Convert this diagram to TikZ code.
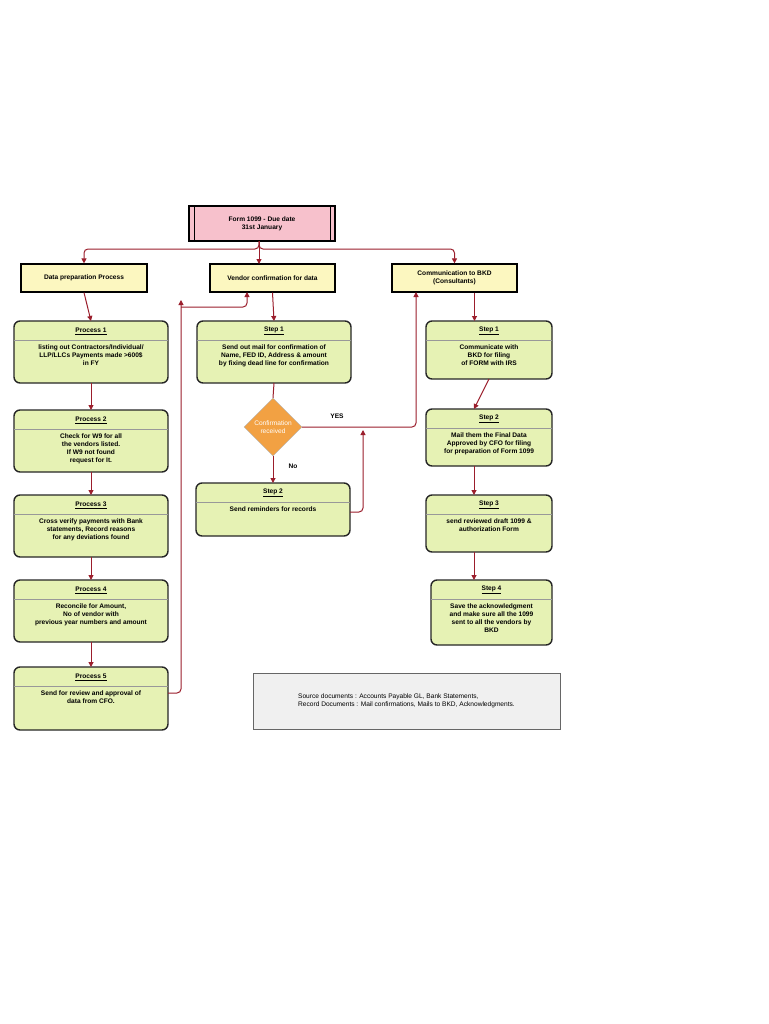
\documentclass[tikz,border=0pt]{standalone}
\usepackage{fontspec}
\setmainfont{Liberation Sans}
\usetikzlibrary{shapes.geometric,arrows.meta}
\definecolor{boxg}{HTML}{E6F2B4}
\definecolor{hdr}{HTML}{FCF7C0}
\definecolor{pnk}{HTML}{F7C1CC}
\definecolor{org}{HTML}{F2A143}
\definecolor{arr}{HTML}{9B1E2C}
\definecolor{notef}{HTML}{F0F0F0}
\tikzset{
 x=1pt,y=-1pt,
 every node/.style={font=\fontsize{6.6}{8}\selectfont\bfseries, align=center, inner sep=0},
 hd/.style={draw=black, line width=1.2pt, fill=hdr},
 rbox/.style={draw=black!85, line width=1.4pt, fill=boxg, rounded corners=6pt},
 con/.style={draw=arr, line width=1pt, -{Triangle[length=5pt,width=5pt]}, rounded corners=4pt},
 ln/.style={draw=arr, line width=1pt, rounded corners=4pt}
}
\newcommand{\rb}[7]{% name x1 y1 x2 y2 title body
 \draw[rbox] (#2,#3) rectangle (#4,#5);
 \coordinate (#1-n) at ({(#2+#4)/2},#3);
 \coordinate (#1-s) at ({(#2+#4)/2},#5);
 \draw[black!40, line width=.6pt] (#2,#3+19) -- (#4,#3+19);
 \node at ({(#2+#4)/2},#3+10) {\underline{#6}};
 \node[anchor=north] at ({(#2+#4)/2},#3+24) {#7};
}
\begin{document}
\begin{tikzpicture}
\useasboundingbox (0,0) rectangle (768,1024);
\fill[white] (0,0) rectangle (768,1024);
% title
\draw[black, line width=1.2pt, fill=pnk] (189,206) rectangle (335,241);
\draw[black, line width=1pt] (194,206) -- (194,241) (330,206) -- (330,241);
\node (t) at (262,223.5) {Form 1099 - Due date\\31st January};
\coordinate (ts) at (259,241);
% headers
\node[hd, minimum width=126, minimum height=28] (h1) at (84,278) {Data preparation Process};
\node[hd, minimum width=125, minimum height=28] (h2) at (272.5,278) {Vendor confirmation for data};
\node[hd, minimum width=125, minimum height=28] (h3) at (454.5,278) {Communication to BKD\\(Consultants)};
\draw[con] (ts) -- (259,249) -| (h1.north);
\draw[con] (ts) -- (259,249) -| (h3.north);
\draw[con] (ts) -- (259,264);
% process boxes
\rb{p1}{14}{321}{168}{383}{Process 1}{listing out Contractors/Individual/\\LLP/LLCs Payments made >600\$\\in FY}
\rb{p2}{14}{410}{168}{472}{Process 2}{Check for W9 for all\\the vendors listed.\\If W9 not found\\request for It.}
\rb{p3}{14}{495}{168}{557}{Process 3}{Cross verify payments with Bank\\statements, Record reasons\\for any deviations found}
\rb{p4}{14}{580}{168}{642}{Process 4}{Reconcile for Amount,\\No of vendor with\\previous year numbers and amount}
\rb{p5}{14}{667}{168}{730}{Process 5}{Send for review and approval of\\data from CFO.}
\draw[con] (h1.south) -- (p1-n);
\draw[con] (p1-s) -- (p2-n);
\draw[con] (p2-s) -- (p3-n);
\draw[con] (p3-s) -- (p4-n);
\draw[con] (p4-s) -- (p5-n);
\coordinate (p5e) at (168,693);
\draw[con] (p5e) -| (181,300);
\draw[con] (181,307) -- (247,307) -- (247,292);
% vendor column
\rb{v1}{197}{321}{351}{383}{Step 1}{Send out mail for confirmation of\\Name, FED ID, Address \& amount\\by fixing dead line for confirmation}
\node[diamond, draw=black!30, fill=org, minimum width=58, minimum height=58, font=\fontsize{6.6}{8}\selectfont, text=white] (d) at (273,427) {Confirmation\\received};
\rb{v2}{196}{483}{350}{536}{Step 2}{Send reminders for records}
\draw[con] (h2.south) -- (v1-n);
\draw[ln] (v1-s) -- (d.north);
\draw[con] (d.south) -- (v2-n);
\node at (293,466) {No};
\node at (337,416) {YES};
\draw[con] (d.east) -| (416,292);
\draw[con] (350,512) -| (363,430);
% BKD column
\rb{b1}{426}{321}{552}{379}{Step 1}{Communicate with\\BKD for filing\\of FORM with IRS}
\rb{b2}{426}{409}{552}{466}{Step 2}{Mail them the Final Data\\Approved by CFO for filing\\for preparation of Form 1099}
\rb{b3}{426}{495}{552}{552}{Step 3}{send reviewed draft 1099 \&\\authorization Form}
\rb{b4}{431}{580}{552}{645}{Step 4}{Save the acknowledgment\\and make sure all the 1099\\sent to all the vendors by\\BKD}
\draw[con] (h3.south) ++(20,0) -- (474.5,321);
\draw[con] (489,379) -- (474,409) ;
\draw[con] (474,466) -- (474,495);
\draw[con] (474,552) -- (474,580);
% note
\node[draw=black!60, fill=notef, minimum width=307, minimum height=56, font=\fontsize{6.6}{8.5}\selectfont, align=left] (nt) at (406.5,701) {Source documents : Accounts Payable GL, Bank Statements,\\Record Documents : Mail confirmations, Mails to BKD, Acknowledgments.};
\end{tikzpicture}
\end{document}
